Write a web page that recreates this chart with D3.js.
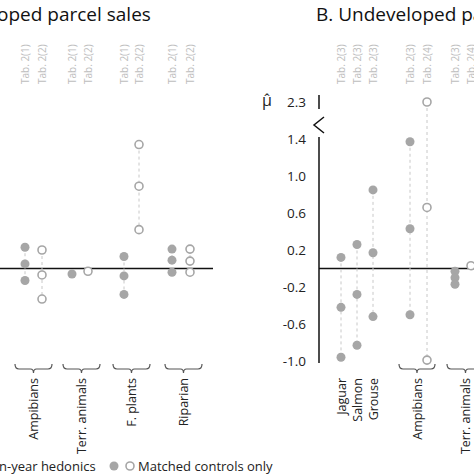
<!DOCTYPE html>
<html><head><meta charset="utf-8">
<script src="https://cdn.jsdelivr.net/npm/d3@7"></script>
<style>body{margin:0;background:#fff}text{font-family:"Open Sans",sans-serif}</style>
</head><body>
<svg id="c" width="474" height="474"></svg>
<script>
// panel A columns (x px of column, table label, open?, values)
var colXA = [25, 42, 72, 88, 124, 139, 172, 190];
var tabA = ["Tab. 2(1)", "Tab. 2(2)", "Tab. 2(1)", "Tab. 2(2)", "Tab. 2(1)", "Tab. 2(2)", "Tab. 2(1)", "Tab. 2(2)"];
var openA = [false, true, false, true, false, true, false, true];
var valsA = [[0.23, 0.05, -0.13], [0.2, -0.07, -0.33], [-0.06], [-0.03],
             [0.13, -0.08, -0.28], [1.34, 0.89, 0.42], [0.21, 0.09, -0.04], [0.21, 0.08, -0.04]];
var groupsA = [["Ampibians", 15, 52], ["Terr. animals", 63, 100], ["F. plants", 113, 150], ["Riparian", 165, 202]];

// panel B
var colXB = [341, 357, 373, 410, 427, 455, 471];
var tabB = ["Tab. 2(3)", "Tab. 2(3)", "Tab. 2(3)", "Tab. 2(3)", "Tab. 2(4)", "Tab. 2(3)", "Tab. 2(4)"];
var openB = [false, false, false, false, true, false, true];
var valsB = [[0.12, -0.42, -0.96], [0.26, -0.28, -0.83], [0.85, 0.17, -0.52],
             [1.37, 0.43, -0.5], [2.3, 0.66, -0.99], [-0.03, -0.1, -0.17], [0.03]];
var speciesB = [["Jaguar", 341], ["Salmon", 357], ["Grouse", 373]];
var groupsB = [["Ampibians", 399, 435], ["Terr. animals", 447, 484]];
var ticksB = [2.3, 1.4, 1.0, 0.6, 0.2, -0.2, -0.6, -1.0];

var svg = d3.select("#c");
var grey = "#a6a6a6";
var yLin = d3.scaleLinear().domain([-1, 1.4]).range([361, 139]);
// broken axis: values above the break are drawn at 1.8
var y = function(v) { return v > 1.6 ? yLin(1.8) : yLin(v); };

function panel(colX, tabs, opens, vals, zeroX0, zeroX1) {
  var g = svg.append("g");
  g.append("line").attr("x1", zeroX0).attr("x2", zeroX1)
    .attr("y1", y(0)).attr("y2", y(0)).attr("stroke", "#111").attr("stroke-width", 1.5);
  colX.forEach(function(x, i) {
    var v = vals[i];
    if (v.length > 1) {
      g.append("line").attr("x1", x).attr("x2", x)
        .attr("y1", y(d3.max(v))).attr("y2", y(d3.min(v)))
        .attr("stroke", "#c8c8c8").attr("stroke-dasharray", "3,3");
    }
    g.selectAll(null).data(v).enter().append("circle")
      .attr("cx", x).attr("cy", function(d) { return y(d); }).attr("r", opens[i] ? 4 : 4.5)
      .attr("fill", opens[i] ? "#fff" : grey)
      .attr("stroke", opens[i] ? grey : "none").attr("stroke-width", 1.6);
    g.append("text").attr("transform", "translate(" + (x + 3.5) + ",84) rotate(-90)")
      .attr("font-size", 10).attr("fill", "#bdbdbd").text(tabs[i]);
  });
}
panel(colXA, tabA, openA, valsA, 0, 213);
panel(colXB, tabB, openB, valsB, 319, 474);

function brackets(groups) {
  groups.forEach(function(gr) {
    var x0 = gr[1], x1 = gr[2], m = (x0 + x1) / 2;
    svg.append("path").attr("fill", "none").attr("stroke", "#555").attr("stroke-width", 1.2)
      .attr("d", "M" + x0 + ",364 Q" + x0 + ",369 " + (x0 + 4) + ",369 L" + (m - 3) + ",369 Q" + m + ",369 " + m + ",373 Q" + m + ",369 " + (m + 3) + ",369 L" + (x1 - 4) + ",369 Q" + x1 + ",369 " + x1 + ",364");
    svg.append("text").attr("transform", "translate(" + (m + 4.5) + ",378) rotate(-90)")
      .attr("text-anchor", "end").attr("font-size", 12.5).attr("fill", "#222").text(gr[0]);
  });
}
brackets(groupsA);
brackets(groupsB);
speciesB.forEach(function(s) {
  svg.append("text").attr("transform", "translate(" + (s[1] + 4.5) + ",378) rotate(-90)")
    .attr("text-anchor", "end").attr("font-size", 12.5).attr("fill", "#222").text(s[0]);
});

// panel B y axis with break
var ax = 319;
svg.append("line").attr("x1", ax).attr("x2", ax).attr("y1", yLin(1.4) - 2).attr("y2", yLin(-1) + 2)
  .attr("stroke", "#111").attr("stroke-width", 1.5);
svg.append("line").attr("x1", ax).attr("x2", ax).attr("y1", 95).attr("y2", 109)
  .attr("stroke", "#111").attr("stroke-width", 1.5);
svg.append("path").attr("d", "M" + (ax + 5) + ",117 L" + (ax - 5) + ",125 L" + (ax + 5) + ",133")
  .attr("fill", "none").attr("stroke", "#111").attr("stroke-width", 1.5);
svg.selectAll(null).data(ticksB).enter().append("text")
  .attr("x", 306).attr("y", function(d) { return y(d) + 5; }).attr("text-anchor", "end")
  .attr("font-size", 13.5).attr("fill", "#222").text(function(d) { return d.toFixed(1); });
svg.append("text").attr("x", 267).attr("y", 106).attr("text-anchor", "middle")
  .attr("font-size", 16).attr("fill", "#222").text("μ\u0302");

// titles
svg.append("text").attr("x", -3).attr("y", 21).attr("font-size", 19).attr("fill", "#111").text("oped parcel sales");
svg.append("text").attr("x", 316).attr("y", 21).attr("font-size", 19).attr("fill", "#111").text("B. Undeveloped parce");

// legend
svg.append("text").attr("x", -1).attr("y", 471).attr("font-size", 13).attr("fill", "#222").text("n-year hedonics");
svg.append("circle").attr("cx", 114).attr("cy", 466).attr("r", 4.5).attr("fill", grey);
svg.append("circle").attr("cx", 130).attr("cy", 466).attr("r", 4).attr("fill", "#fff").attr("stroke", grey).attr("stroke-width", 1.6);
svg.append("text").attr("x", 138).attr("y", 471).attr("font-size", 13).attr("fill", "#222").text("Matched controls only");
</script>
</body></html>
